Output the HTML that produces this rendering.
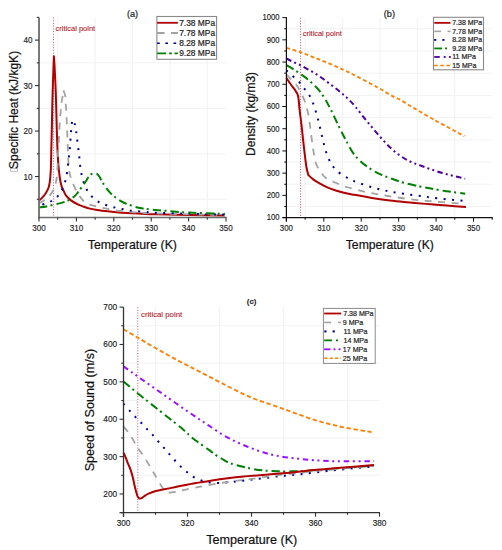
<!DOCTYPE html>
<html><head><meta charset="utf-8"><title>Figure</title>
<style>
html,body{margin:0;padding:0;background:#fff;}
body{width:502px;height:550px;overflow:hidden;}
svg{display:block;font-family:"Liberation Sans", sans-serif;}
</style></head>
<body>
<svg width="502" height="550" viewBox="0 0 502 550">
<rect width="502" height="550" fill="#fff"/>
<line x1="57.70" y1="17.5" x2="57.70" y2="217.5" stroke="#f2f2f2" stroke-width="1"/>
<line x1="95.10" y1="17.5" x2="95.10" y2="217.5" stroke="#f2f2f2" stroke-width="1"/>
<line x1="132.50" y1="17.5" x2="132.50" y2="217.5" stroke="#f2f2f2" stroke-width="1"/>
<line x1="169.90" y1="17.5" x2="169.90" y2="217.5" stroke="#f2f2f2" stroke-width="1"/>
<line x1="207.30" y1="17.5" x2="207.30" y2="217.5" stroke="#f2f2f2" stroke-width="1"/>
<line x1="39.0" y1="199.26" x2="226.0" y2="199.26" stroke="#f2f2f2" stroke-width="1"/>
<line x1="39.0" y1="153.80" x2="226.0" y2="153.80" stroke="#f2f2f2" stroke-width="1"/>
<line x1="39.0" y1="108.33" x2="226.0" y2="108.33" stroke="#f2f2f2" stroke-width="1"/>
<line x1="39.0" y1="62.86" x2="226.0" y2="62.86" stroke="#f2f2f2" stroke-width="1"/>
<line x1="53.6" y1="17.5" x2="53.6" y2="217.5" stroke="#dd5a80" stroke-width="1" stroke-dasharray="1.1,1.6"/>
<text x="55.6" y="30.8" font-size="7.5" text-anchor="start" fill="#b01a28" stroke="#b01a28" stroke-width="0.1">critical point</text>
<path d="M39.00,200.40 C39.42,200.07 40.67,199.20 41.50,198.40 C42.33,197.60 43.25,196.53 44.00,195.60 C44.75,194.67 45.38,193.78 46.00,192.80 C46.62,191.82 47.22,190.77 47.70,189.70 C48.18,188.63 48.57,187.63 48.90,186.40 C49.23,185.17 49.47,183.87 49.70,182.30 C49.93,180.73 50.13,178.88 50.30,177.00 C50.47,175.12 50.58,173.00 50.70,171.00 C50.82,169.00 50.90,168.50 51.00,165.00 C51.10,161.50 51.17,155.83 51.30,150.00 C51.43,144.17 51.65,136.67 51.80,130.00 C51.95,123.33 52.05,116.67 52.20,110.00 C52.35,103.33 52.52,96.33 52.70,90.00 C52.88,83.67 53.10,77.62 53.30,72.00 C53.50,66.38 53.80,58.92 53.90,56.30 L53.90,56.30 C54.00,57.75 54.32,61.88 54.50,65.00 C54.68,68.12 54.82,71.17 55.00,75.00 C55.18,78.83 55.43,83.83 55.60,88.00 C55.77,92.17 55.87,95.50 56.00,100.00 C56.13,104.50 56.27,110.00 56.40,115.00 C56.53,120.00 56.62,124.17 56.80,130.00 C56.98,135.83 57.23,144.17 57.50,150.00 C57.77,155.83 58.00,160.25 58.40,165.00 C58.80,169.75 59.37,174.95 59.90,178.50 C60.43,182.05 60.98,184.25 61.60,186.30 C62.22,188.35 62.85,189.25 63.60,190.80 C64.35,192.35 64.87,194.00 66.10,195.60 C67.33,197.20 69.05,198.93 71.00,200.40 C72.95,201.87 75.67,203.33 77.80,204.40 C79.93,205.47 81.80,206.10 83.80,206.80 C85.80,207.50 87.80,208.10 89.80,208.60 C91.80,209.10 93.77,209.45 95.80,209.80 C97.83,210.15 98.98,210.35 102.00,210.70 C105.02,211.05 109.60,211.52 113.90,211.90 C118.20,212.28 123.15,212.70 127.80,213.00 C132.45,213.30 137.15,213.48 141.80,213.70 C146.45,213.92 147.67,214.08 155.70,214.30 C163.73,214.52 178.45,214.80 190.00,215.00 C201.55,215.20 219.17,215.42 225.00,215.50" fill="none" stroke="#b00000" stroke-width="2.0" stroke-linejoin="round"/>
<path id="gray_a" d="M39.00,203.20 C39.70,202.82 41.70,201.88 43.20,200.90 C44.70,199.92 46.42,198.90 48.00,197.30 C49.58,195.70 51.47,193.43 52.70,191.30 C53.93,189.17 54.70,187.05 55.40,184.50 C56.10,181.95 56.53,179.25 56.90,176.00 C57.27,172.75 57.37,169.33 57.60,165.00 C57.83,160.67 58.03,155.33 58.30,150.00 C58.57,144.67 58.92,138.17 59.20,133.00 C59.48,127.83 59.75,122.63 60.00,119.00 C60.25,115.37 60.47,113.78 60.70,111.20 C60.93,108.62 61.10,105.87 61.40,103.50 C61.70,101.13 62.18,99.25 62.50,97.00 C62.82,94.75 63.17,91.17 63.30,90.00 L63.30,90.00 C63.52,90.58 64.25,92.33 64.60,93.50 C64.95,94.67 65.22,95.33 65.40,97.00 C65.58,98.67 65.57,101.32 65.70,103.50 C65.83,105.68 66.00,106.52 66.20,110.10 C66.40,113.68 66.68,120.02 66.90,125.00 C67.12,129.98 67.28,134.50 67.50,140.00 C67.72,145.50 67.90,152.67 68.20,158.00 C68.50,163.33 68.68,168.25 69.30,172.00 C69.92,175.75 70.68,177.28 71.90,180.50 C73.12,183.72 75.02,188.30 76.60,191.30 C78.18,194.30 79.80,196.52 81.40,198.50 C83.00,200.48 84.20,202.02 86.20,203.20 C88.20,204.38 90.42,204.78 93.40,205.60 C96.38,206.42 100.22,207.27 104.10,208.10 C107.98,208.93 112.28,209.97 116.70,210.60 C121.12,211.23 125.95,211.50 130.60,211.90 C135.25,212.30 135.53,212.62 144.60,213.00 C153.67,213.38 171.60,213.87 185.00,214.20 C198.40,214.53 218.33,214.87 225.00,215.00" fill="none" stroke="#a3a3a3" stroke-width="1.8" stroke-dasharray="7,6.5" stroke-dashoffset="0.30" stroke-linejoin="round"/>
<path id="blue_a" d="M39.00,205.30 C40.30,204.95 44.38,204.12 46.80,203.20 C49.22,202.28 51.45,201.22 53.50,199.80 C55.55,198.38 57.50,196.73 59.10,194.70 C60.70,192.67 61.98,190.17 63.10,187.60 C64.22,185.03 65.12,182.00 65.80,179.30 C66.48,176.60 66.80,174.08 67.20,171.40 C67.60,168.72 67.88,165.93 68.20,163.20 C68.52,160.47 68.82,157.58 69.10,155.00 C69.38,152.42 69.67,150.35 69.90,147.70 C70.13,145.05 70.30,141.87 70.50,139.10 C70.70,136.33 70.93,133.20 71.10,131.10 C71.27,129.00 71.37,127.87 71.50,126.50 C71.63,125.13 71.62,124.05 71.90,122.90 C72.18,121.75 72.75,119.55 73.20,119.60 C73.65,119.65 74.25,121.97 74.60,123.20 C74.95,124.43 75.05,125.68 75.30,127.00 C75.55,128.32 75.80,129.05 76.10,131.10 C76.40,133.15 76.75,136.53 77.10,139.30 C77.45,142.07 77.87,145.08 78.20,147.70 C78.53,150.32 78.82,152.42 79.10,155.00 C79.38,157.58 79.60,160.53 79.90,163.20 C80.20,165.87 80.45,168.42 80.90,171.00 C81.35,173.58 81.92,176.22 82.60,178.70 C83.28,181.18 84.00,183.60 85.00,185.90 C86.00,188.20 87.03,190.32 88.60,192.50 C90.17,194.68 92.28,197.22 94.40,199.00 C96.52,200.78 98.87,202.03 101.30,203.20 C103.73,204.37 106.32,205.18 109.00,206.00 C111.68,206.82 114.73,207.52 117.40,208.10 C120.07,208.68 122.33,209.03 125.00,209.50 C127.67,209.97 129.90,210.48 133.40,210.90 C136.90,211.32 142.52,211.70 146.00,212.00 C149.48,212.30 146.97,212.40 154.30,212.70 C161.63,213.00 178.22,213.48 190.00,213.80 C201.78,214.12 219.17,214.47 225.00,214.60" fill="none" stroke="#00009c" stroke-width="2.0" stroke-dasharray="2,6.4" stroke-dashoffset="5.00" stroke-linejoin="round"/>
<path d="M39.00,207.40 C40.23,207.23 43.85,206.87 46.40,206.40 C48.95,205.93 51.78,205.18 54.30,204.60 C56.82,204.02 59.37,203.52 61.50,202.90 C63.63,202.28 65.50,201.60 67.10,200.90 C68.70,200.20 69.78,199.53 71.10,198.70 C72.42,197.87 73.80,197.05 75.00,195.90 C76.20,194.75 77.23,193.17 78.30,191.80 C79.37,190.43 80.08,189.53 81.40,187.70 C82.72,185.87 84.97,182.65 86.20,180.80 C87.43,178.95 87.90,177.73 88.80,176.60 C89.70,175.47 90.57,174.55 91.60,174.00 C92.63,173.45 94.02,173.25 95.00,173.30 C95.98,173.35 96.73,173.68 97.50,174.30 C98.27,174.92 98.73,175.58 99.60,177.00 C100.47,178.42 101.25,180.52 102.70,182.80 C104.15,185.08 106.43,188.45 108.30,190.70 C110.17,192.95 111.80,194.57 113.90,196.30 C116.00,198.03 118.58,199.77 120.90,201.10 C123.22,202.43 125.48,203.37 127.80,204.30 C130.12,205.23 132.47,206.03 134.80,206.70 C137.13,207.37 139.27,207.85 141.80,208.30 C144.33,208.75 145.98,208.98 150.00,209.40 C154.02,209.82 159.27,210.27 165.90,210.80 C172.53,211.33 179.95,212.08 189.80,212.60 C199.65,213.12 219.13,213.68 225.00,213.90" fill="none" stroke="#008000" stroke-width="2.0" stroke-dasharray="8.3,3.3,2,4.1" stroke-linejoin="round"/>
<line x1="39.0" y1="17.5" x2="39.0" y2="218.3" stroke="#6b6b6b" stroke-width="1.8"/>
<line x1="38.1" y1="217.5" x2="226.6" y2="217.5" stroke="#6b6b6b" stroke-width="1.6"/>
<line x1="39.00" y1="217.5" x2="39.00" y2="221.5" stroke="#333" stroke-width="1.1"/>
<text x="39.0" y="231.3" font-size="8.91" text-anchor="middle" fill="#1a1a1a" stroke="#1a1a1a" stroke-width="0.15" textLength="13.51" lengthAdjust="spacingAndGlyphs">300</text>
<line x1="57.70" y1="217.5" x2="57.70" y2="219.7" stroke="#333" stroke-width="1.1"/>
<line x1="76.40" y1="217.5" x2="76.40" y2="221.5" stroke="#333" stroke-width="1.1"/>
<text x="76.4" y="231.3" font-size="8.91" text-anchor="middle" fill="#1a1a1a" stroke="#1a1a1a" stroke-width="0.15" textLength="13.51" lengthAdjust="spacingAndGlyphs">310</text>
<line x1="95.10" y1="217.5" x2="95.10" y2="219.7" stroke="#333" stroke-width="1.1"/>
<line x1="113.80" y1="217.5" x2="113.80" y2="221.5" stroke="#333" stroke-width="1.1"/>
<text x="113.8" y="231.3" font-size="8.91" text-anchor="middle" fill="#1a1a1a" stroke="#1a1a1a" stroke-width="0.15" textLength="13.51" lengthAdjust="spacingAndGlyphs">320</text>
<line x1="132.50" y1="217.5" x2="132.50" y2="219.7" stroke="#333" stroke-width="1.1"/>
<line x1="151.20" y1="217.5" x2="151.20" y2="221.5" stroke="#333" stroke-width="1.1"/>
<text x="151.2" y="231.3" font-size="8.91" text-anchor="middle" fill="#1a1a1a" stroke="#1a1a1a" stroke-width="0.15" textLength="13.51" lengthAdjust="spacingAndGlyphs">330</text>
<line x1="169.90" y1="217.5" x2="169.90" y2="219.7" stroke="#333" stroke-width="1.1"/>
<line x1="188.60" y1="217.5" x2="188.60" y2="221.5" stroke="#333" stroke-width="1.1"/>
<text x="188.6" y="231.3" font-size="8.91" text-anchor="middle" fill="#1a1a1a" stroke="#1a1a1a" stroke-width="0.15" textLength="13.51" lengthAdjust="spacingAndGlyphs">340</text>
<line x1="207.30" y1="217.5" x2="207.30" y2="219.7" stroke="#333" stroke-width="1.1"/>
<line x1="226.00" y1="217.5" x2="226.00" y2="221.5" stroke="#333" stroke-width="1.1"/>
<text x="226.0" y="231.3" font-size="8.91" text-anchor="middle" fill="#1a1a1a" stroke="#1a1a1a" stroke-width="0.15" textLength="13.51" lengthAdjust="spacingAndGlyphs">350</text>
<line x1="36.8" y1="199.26" x2="39.0" y2="199.26" stroke="#333" stroke-width="1.1"/>
<line x1="35.0" y1="176.53" x2="39.0" y2="176.53" stroke="#333" stroke-width="1.1"/>
<text x="32.6" y="179.83" font-size="8.91" text-anchor="end" fill="#1a1a1a" stroke="#1a1a1a" stroke-width="0.15" textLength="9.01" lengthAdjust="spacingAndGlyphs">10</text>
<line x1="36.8" y1="153.80" x2="39.0" y2="153.80" stroke="#333" stroke-width="1.1"/>
<line x1="35.0" y1="131.06" x2="39.0" y2="131.06" stroke="#333" stroke-width="1.1"/>
<text x="32.6" y="134.36" font-size="8.91" text-anchor="end" fill="#1a1a1a" stroke="#1a1a1a" stroke-width="0.15" textLength="9.01" lengthAdjust="spacingAndGlyphs">20</text>
<line x1="36.8" y1="108.33" x2="39.0" y2="108.33" stroke="#333" stroke-width="1.1"/>
<line x1="35.0" y1="85.59" x2="39.0" y2="85.59" stroke="#333" stroke-width="1.1"/>
<text x="32.6" y="88.89" font-size="8.91" text-anchor="end" fill="#1a1a1a" stroke="#1a1a1a" stroke-width="0.15" textLength="9.01" lengthAdjust="spacingAndGlyphs">30</text>
<line x1="36.8" y1="62.86" x2="39.0" y2="62.86" stroke="#333" stroke-width="1.1"/>
<line x1="35.0" y1="40.12" x2="39.0" y2="40.12" stroke="#333" stroke-width="1.1"/>
<text x="32.6" y="43.42" font-size="8.91" text-anchor="end" fill="#1a1a1a" stroke="#1a1a1a" stroke-width="0.15" textLength="9.01" lengthAdjust="spacingAndGlyphs">40</text>
<line x1="36.8" y1="17.39" x2="39.0" y2="17.39" stroke="#333" stroke-width="1.1"/>
<text x="132.5" y="17.1" font-size="9.2" text-anchor="middle" fill="#222" stroke="#222" stroke-width="0.2">(a)</text>
<text x="132.4" y="248.7" font-size="12.35" text-anchor="middle" fill="#111" stroke="#111" stroke-width="0.2">Temperature (K)</text>
<g transform="translate(17.8,171.6) rotate(-90)"><rect x="0.35" y="-7.4" width="2.9" height="7.1" fill="none" stroke="#aaa" stroke-width="0.7"/><text x="2.7" y="0" font-size="12" fill="#111" stroke="#111" stroke-width="0.2">Specific Heat (kJ/kgK)</text></g>
<rect x="156.9" y="16.5" width="59.7" height="42.8" fill="#fff" stroke="#8a8a8a" stroke-width="1.1"/>
<line x1="157.1" y1="22.80" x2="177.9" y2="22.80" stroke="#b00000" stroke-width="1.8"/>
<text x="179.2" y="25.8" font-size="8.4" text-anchor="start" fill="#222" stroke="#222" stroke-width="0.2">7.38 MPa</text>
<line x1="157.1" y1="33.00" x2="177.9" y2="33.00" stroke="#a3a3a3" stroke-width="1.8" stroke-dasharray="7.5,6.4"/>
<text x="179.2" y="36.0" font-size="8.4" text-anchor="start" fill="#222" stroke="#222" stroke-width="0.2">7.78 MPa</text>
<line x1="157.1" y1="43.20" x2="177.9" y2="43.20" stroke="#00009c" stroke-width="1.6" stroke-dasharray="2.7,5.5"/>
<text x="179.2" y="46.2" font-size="8.4" text-anchor="start" fill="#222" stroke="#222" stroke-width="0.2">8.28 MPa</text>
<line x1="157.1" y1="53.40" x2="177.9" y2="53.40" stroke="#008000" stroke-width="1.8" stroke-dasharray="9,3,2.7,2.7"/>
<text x="179.2" y="56.4" font-size="8.4" text-anchor="start" fill="#222" stroke="#222" stroke-width="0.2">9.28 MPa</text>
<line x1="305.11" y1="17.8" x2="305.11" y2="217.6" stroke="#f2f2f2" stroke-width="1"/>
<line x1="342.53" y1="17.8" x2="342.53" y2="217.6" stroke="#f2f2f2" stroke-width="1"/>
<line x1="379.95" y1="17.8" x2="379.95" y2="217.6" stroke="#f2f2f2" stroke-width="1"/>
<line x1="417.37" y1="17.8" x2="417.37" y2="217.6" stroke="#f2f2f2" stroke-width="1"/>
<line x1="454.79" y1="17.8" x2="454.79" y2="217.6" stroke="#f2f2f2" stroke-width="1"/>
<line x1="286.4" y1="206.49" x2="492.21" y2="206.49" stroke="#f2f2f2" stroke-width="1"/>
<line x1="286.4" y1="184.27" x2="492.21" y2="184.27" stroke="#f2f2f2" stroke-width="1"/>
<line x1="286.4" y1="162.05" x2="492.21" y2="162.05" stroke="#f2f2f2" stroke-width="1"/>
<line x1="286.4" y1="139.83" x2="492.21" y2="139.83" stroke="#f2f2f2" stroke-width="1"/>
<line x1="286.4" y1="117.61" x2="492.21" y2="117.61" stroke="#f2f2f2" stroke-width="1"/>
<line x1="286.4" y1="95.39" x2="492.21" y2="95.39" stroke="#f2f2f2" stroke-width="1"/>
<line x1="286.4" y1="73.17" x2="492.21" y2="73.17" stroke="#f2f2f2" stroke-width="1"/>
<line x1="286.4" y1="50.95" x2="492.21" y2="50.95" stroke="#f2f2f2" stroke-width="1"/>
<line x1="286.4" y1="28.73" x2="492.21" y2="28.73" stroke="#f2f2f2" stroke-width="1"/>
<line x1="300.5" y1="17.8" x2="300.5" y2="217.6" stroke="#dd5a80" stroke-width="1" stroke-dasharray="1.1,1.6"/>
<text x="302.8" y="36.2" font-size="7.4" text-anchor="start" fill="#b01a28" stroke="#b01a28" stroke-width="0.1">critical point</text>
<path d="M286.40,77.90 C287.20,79.08 289.78,83.00 291.20,85.00 C292.62,87.00 293.83,88.37 294.90,89.90 C295.97,91.43 297.15,93.48 297.60,94.20 L297.60,94.20 C297.77,95.05 298.30,97.02 298.60,99.30 C298.90,101.58 299.07,104.83 299.40,107.90 C299.73,110.97 300.18,114.27 300.60,117.70 C301.02,121.13 301.35,123.58 301.90,128.50 C302.45,133.42 303.30,141.90 303.90,147.20 C304.50,152.50 305.05,156.83 305.50,160.30 C305.95,163.77 306.13,165.55 306.60,168.00 C307.07,170.45 308.02,173.83 308.30,175.00 L308.30,175.00 C309.12,175.73 311.25,177.95 313.20,179.40 C315.15,180.85 317.65,182.37 320.00,183.70 C322.35,185.03 324.80,186.30 327.30,187.40 C329.80,188.50 332.23,189.42 335.00,190.30 C337.77,191.18 340.42,191.90 343.90,192.70 C347.38,193.50 351.23,194.23 355.90,195.10 C360.57,195.97 366.58,197.05 371.90,197.90 C377.22,198.75 382.50,199.53 387.80,200.20 C393.10,200.87 399.17,201.43 403.70,201.90 C408.23,202.37 410.47,202.60 415.00,203.00 C419.53,203.40 425.58,203.87 430.90,204.30 C436.22,204.73 441.05,205.17 446.90,205.60 C452.75,206.03 462.82,206.68 466.00,206.90" fill="none" stroke="#b00000" stroke-width="2.0" stroke-linejoin="round"/>
<path d="M286.40,74.40 C286.90,74.93 288.30,76.42 289.40,77.60 C290.50,78.78 291.82,80.27 293.00,81.50 C294.18,82.73 295.50,83.73 296.50,85.00 C297.50,86.27 297.97,87.20 299.00,89.10 C300.03,91.00 301.68,94.22 302.70,96.40 C303.72,98.58 304.35,100.02 305.10,102.20 C305.85,104.38 306.62,107.25 307.20,109.50 C307.78,111.75 308.20,113.52 308.60,115.70 C309.00,117.88 309.30,120.43 309.60,122.60 C309.90,124.77 309.98,125.50 310.40,128.70 C310.82,131.90 311.55,137.80 312.10,141.80 C312.65,145.80 313.12,149.30 313.70,152.70 C314.28,156.10 314.87,159.65 315.60,162.20 C316.33,164.75 316.97,165.95 318.10,168.00 C319.23,170.05 321.13,172.87 322.40,174.50 C323.67,176.13 324.43,176.83 325.70,177.80 C326.97,178.77 328.45,179.52 330.00,180.30 C331.55,181.08 333.33,181.77 335.00,182.50 C336.67,183.23 338.10,183.95 340.00,184.70 C341.90,185.45 342.42,185.85 346.40,187.00 C350.38,188.15 358.33,190.33 363.90,191.60 C369.47,192.87 374.48,193.67 379.80,194.60 C385.12,195.53 389.93,196.33 395.80,197.20 C401.67,198.07 409.15,199.13 415.00,199.80 C420.85,200.47 425.58,200.75 430.90,201.20 C436.22,201.65 441.22,202.07 446.90,202.50 C452.58,202.93 461.98,203.58 465.00,203.80" fill="none" stroke="#a3a3a3" stroke-width="1.8" stroke-dasharray="7,6.5" stroke-linejoin="round"/>
<path d="M286.40,70.50 C287.40,71.40 290.32,74.02 292.40,75.90 C294.48,77.78 297.02,79.82 298.90,81.80 C300.78,83.78 302.00,85.60 303.70,87.80 C305.40,90.00 307.60,92.60 309.10,95.00 C310.60,97.40 311.67,99.72 312.70,102.20 C313.73,104.68 314.48,107.32 315.30,109.90 C316.12,112.48 316.90,115.10 317.60,117.70 C318.30,120.30 318.88,122.92 319.50,125.50 C320.12,128.08 320.68,130.62 321.30,133.20 C321.92,135.78 322.55,138.33 323.20,141.00 C323.85,143.67 324.40,146.53 325.20,149.20 C326.00,151.87 327.02,154.60 328.00,157.00 C328.98,159.40 329.83,161.52 331.10,163.60 C332.37,165.68 333.78,167.63 335.60,169.50 C337.42,171.37 339.67,173.23 342.00,174.80 C344.33,176.37 347.28,177.72 349.60,178.90 C351.92,180.08 352.18,180.52 355.90,181.90 C359.62,183.28 366.58,185.67 371.90,187.20 C377.22,188.73 382.50,190.00 387.80,191.10 C393.10,192.20 398.10,192.97 403.70,193.80 C409.30,194.63 416.87,195.50 421.40,196.10 C425.93,196.70 426.65,196.87 430.90,197.40 C435.15,197.93 441.18,198.72 446.90,199.30 C452.62,199.88 462.15,200.63 465.20,200.90" fill="none" stroke="#00009c" stroke-width="2.0" stroke-dasharray="2,6.4" stroke-linejoin="round"/>
<path d="M286.40,65.10 C287.60,65.80 291.22,67.80 293.60,69.30 C295.98,70.80 298.32,72.42 300.70,74.10 C303.08,75.78 305.50,77.42 307.90,79.40 C310.30,81.38 313.10,84.00 315.10,86.00 C317.10,88.00 318.32,89.37 319.90,91.40 C321.48,93.43 323.22,96.00 324.60,98.20 C325.98,100.40 326.80,101.95 328.20,104.60 C329.60,107.25 331.60,111.23 333.00,114.10 C334.40,116.97 335.40,119.28 336.60,121.80 C337.80,124.32 339.00,126.80 340.20,129.20 C341.40,131.60 342.77,134.20 343.80,136.20 C344.83,138.20 344.92,138.50 346.40,141.20 C347.88,143.90 350.32,149.03 352.70,152.40 C355.08,155.77 357.50,158.50 360.70,161.40 C363.90,164.30 368.18,167.45 371.90,169.80 C375.62,172.15 379.55,173.97 383.00,175.50 C386.45,177.03 389.15,177.78 392.60,179.00 C396.05,180.22 399.18,181.57 403.70,182.80 C408.22,184.03 415.17,185.43 419.70,186.40 C424.23,187.37 426.37,187.78 430.90,188.60 C435.43,189.42 441.18,190.45 446.90,191.30 C452.62,192.15 462.15,193.30 465.20,193.70" fill="none" stroke="#008000" stroke-width="2.0" stroke-dasharray="8.3,3.3,2,4.1" stroke-linejoin="round"/>
<path d="M286.40,58.50 C287.60,59.10 291.22,60.97 293.60,62.10 C295.98,63.23 298.32,64.10 300.70,65.30 C303.08,66.50 305.50,67.93 307.90,69.30 C310.30,70.67 312.72,72.02 315.10,73.50 C317.48,74.98 319.82,76.52 322.20,78.20 C324.58,79.88 327.00,81.80 329.40,83.60 C331.80,85.40 334.40,87.27 336.60,89.00 C338.80,90.73 340.57,92.25 342.60,94.00 C344.63,95.75 346.58,97.27 348.80,99.50 C351.02,101.73 353.38,104.40 355.90,107.40 C358.42,110.40 361.23,114.22 363.90,117.50 C366.57,120.78 369.25,123.93 371.90,127.10 C374.55,130.27 377.15,133.48 379.80,136.50 C382.45,139.52 385.13,142.55 387.80,145.20 C390.47,147.85 393.15,150.27 395.80,152.40 C398.45,154.53 401.05,156.37 403.70,158.00 C406.35,159.63 409.03,160.98 411.70,162.20 C414.37,163.42 416.50,164.12 419.70,165.30 C422.90,166.48 426.37,167.80 430.90,169.30 C435.43,170.80 441.18,172.73 446.90,174.30 C452.62,175.87 462.15,177.97 465.20,178.70" fill="none" stroke="#4f009e" stroke-width="2.0" stroke-dasharray="5.5,3.2,2,3.2,2,3.3" stroke-linejoin="round"/>
<path d="M286.40,47.80 C288.78,48.55 295.92,50.62 300.70,52.30 C305.48,53.98 310.32,56.02 315.10,57.90 C319.88,59.78 324.62,61.58 329.40,63.60 C334.18,65.62 339.38,67.95 343.80,70.00 C348.22,72.05 351.22,73.50 355.90,75.90 C360.58,78.30 367.88,82.25 371.90,84.40 C375.92,86.55 377.35,87.28 380.00,88.80 C382.65,90.32 385.30,92.07 387.80,93.50 C390.30,94.93 392.90,96.35 395.00,97.40 C397.10,98.45 397.90,98.40 400.40,99.80 C402.90,101.20 406.62,103.77 410.00,105.80 C413.38,107.83 417.12,109.92 420.70,112.00 C424.28,114.08 428.83,116.75 431.50,118.30 C434.17,119.85 434.13,119.90 436.70,121.30 C439.27,122.70 443.77,125.02 446.90,126.70 C450.03,128.38 452.58,129.80 455.50,131.40 C458.42,133.00 462.92,135.48 464.40,136.30" fill="none" stroke="#ff8000" stroke-width="1.85" stroke-dasharray="3.8,2.6" stroke-linejoin="round"/>
<line x1="286.4" y1="17.3" x2="286.4" y2="221.6" stroke="#111" stroke-width="1.2"/>
<line x1="282.4" y1="217.6" x2="492.71" y2="217.6" stroke="#111" stroke-width="1.35"/>
<line x1="286.40" y1="217.6" x2="286.40" y2="221.6" stroke="#111" stroke-width="1"/>
<text x="286.4" y="231.2" font-size="8.69" text-anchor="middle" fill="#1a1a1a" stroke="#1a1a1a" stroke-width="0.15" textLength="13.18" lengthAdjust="spacingAndGlyphs">300</text>
<line x1="305.11" y1="217.6" x2="305.11" y2="219.79999999999998" stroke="#111" stroke-width="1"/>
<line x1="323.82" y1="217.6" x2="323.82" y2="221.6" stroke="#111" stroke-width="1"/>
<text x="323.82" y="231.2" font-size="8.69" text-anchor="middle" fill="#1a1a1a" stroke="#1a1a1a" stroke-width="0.15" textLength="13.18" lengthAdjust="spacingAndGlyphs">310</text>
<line x1="342.53" y1="217.6" x2="342.53" y2="219.79999999999998" stroke="#111" stroke-width="1"/>
<line x1="361.24" y1="217.6" x2="361.24" y2="221.6" stroke="#111" stroke-width="1"/>
<text x="361.24" y="231.2" font-size="8.69" text-anchor="middle" fill="#1a1a1a" stroke="#1a1a1a" stroke-width="0.15" textLength="13.18" lengthAdjust="spacingAndGlyphs">320</text>
<line x1="379.95" y1="217.6" x2="379.95" y2="219.79999999999998" stroke="#111" stroke-width="1"/>
<line x1="398.66" y1="217.6" x2="398.66" y2="221.6" stroke="#111" stroke-width="1"/>
<text x="398.66" y="231.2" font-size="8.69" text-anchor="middle" fill="#1a1a1a" stroke="#1a1a1a" stroke-width="0.15" textLength="13.18" lengthAdjust="spacingAndGlyphs">330</text>
<line x1="417.37" y1="217.6" x2="417.37" y2="219.79999999999998" stroke="#111" stroke-width="1"/>
<line x1="436.08" y1="217.6" x2="436.08" y2="221.6" stroke="#111" stroke-width="1"/>
<text x="436.08" y="231.2" font-size="8.69" text-anchor="middle" fill="#1a1a1a" stroke="#1a1a1a" stroke-width="0.15" textLength="13.18" lengthAdjust="spacingAndGlyphs">340</text>
<line x1="454.79" y1="217.6" x2="454.79" y2="219.79999999999998" stroke="#111" stroke-width="1"/>
<line x1="473.50" y1="217.6" x2="473.50" y2="221.6" stroke="#111" stroke-width="1"/>
<text x="473.5" y="231.2" font-size="8.69" text-anchor="middle" fill="#1a1a1a" stroke="#1a1a1a" stroke-width="0.15" textLength="13.18" lengthAdjust="spacingAndGlyphs">350</text>
<line x1="492.21" y1="217.6" x2="492.21" y2="219.79999999999998" stroke="#111" stroke-width="1"/>
<line x1="282.4" y1="217.60" x2="286.4" y2="217.60" stroke="#111" stroke-width="1"/>
<text x="279.6" y="220.4" font-size="8.47" text-anchor="end" fill="#1a1a1a" stroke="#1a1a1a" stroke-width="0.15" textLength="12.84" lengthAdjust="spacingAndGlyphs">100</text>
<line x1="284.2" y1="206.49" x2="286.4" y2="206.49" stroke="#111" stroke-width="1"/>
<line x1="282.4" y1="195.38" x2="286.4" y2="195.38" stroke="#111" stroke-width="1"/>
<text x="279.6" y="198.18" font-size="8.47" text-anchor="end" fill="#1a1a1a" stroke="#1a1a1a" stroke-width="0.15" textLength="12.84" lengthAdjust="spacingAndGlyphs">200</text>
<line x1="284.2" y1="184.27" x2="286.4" y2="184.27" stroke="#111" stroke-width="1"/>
<line x1="282.4" y1="173.16" x2="286.4" y2="173.16" stroke="#111" stroke-width="1"/>
<text x="279.6" y="175.96" font-size="8.47" text-anchor="end" fill="#1a1a1a" stroke="#1a1a1a" stroke-width="0.15" textLength="12.84" lengthAdjust="spacingAndGlyphs">300</text>
<line x1="284.2" y1="162.05" x2="286.4" y2="162.05" stroke="#111" stroke-width="1"/>
<line x1="282.4" y1="150.94" x2="286.4" y2="150.94" stroke="#111" stroke-width="1"/>
<text x="279.6" y="153.74" font-size="8.47" text-anchor="end" fill="#1a1a1a" stroke="#1a1a1a" stroke-width="0.15" textLength="12.84" lengthAdjust="spacingAndGlyphs">400</text>
<line x1="284.2" y1="139.83" x2="286.4" y2="139.83" stroke="#111" stroke-width="1"/>
<line x1="282.4" y1="128.72" x2="286.4" y2="128.72" stroke="#111" stroke-width="1"/>
<text x="279.6" y="131.52" font-size="8.47" text-anchor="end" fill="#1a1a1a" stroke="#1a1a1a" stroke-width="0.15" textLength="12.84" lengthAdjust="spacingAndGlyphs">500</text>
<line x1="284.2" y1="117.61" x2="286.4" y2="117.61" stroke="#111" stroke-width="1"/>
<line x1="282.4" y1="106.50" x2="286.4" y2="106.50" stroke="#111" stroke-width="1"/>
<text x="279.6" y="109.3" font-size="8.47" text-anchor="end" fill="#1a1a1a" stroke="#1a1a1a" stroke-width="0.15" textLength="12.84" lengthAdjust="spacingAndGlyphs">600</text>
<line x1="284.2" y1="95.39" x2="286.4" y2="95.39" stroke="#111" stroke-width="1"/>
<line x1="282.4" y1="84.28" x2="286.4" y2="84.28" stroke="#111" stroke-width="1"/>
<text x="279.6" y="87.08" font-size="8.47" text-anchor="end" fill="#1a1a1a" stroke="#1a1a1a" stroke-width="0.15" textLength="12.84" lengthAdjust="spacingAndGlyphs">700</text>
<line x1="284.2" y1="73.17" x2="286.4" y2="73.17" stroke="#111" stroke-width="1"/>
<line x1="282.4" y1="62.06" x2="286.4" y2="62.06" stroke="#111" stroke-width="1"/>
<text x="279.6" y="64.86" font-size="8.47" text-anchor="end" fill="#1a1a1a" stroke="#1a1a1a" stroke-width="0.15" textLength="12.84" lengthAdjust="spacingAndGlyphs">800</text>
<line x1="284.2" y1="50.95" x2="286.4" y2="50.95" stroke="#111" stroke-width="1"/>
<line x1="282.4" y1="39.84" x2="286.4" y2="39.84" stroke="#111" stroke-width="1"/>
<text x="279.6" y="42.64" font-size="8.47" text-anchor="end" fill="#1a1a1a" stroke="#1a1a1a" stroke-width="0.15" textLength="12.84" lengthAdjust="spacingAndGlyphs">900</text>
<line x1="284.2" y1="28.73" x2="286.4" y2="28.73" stroke="#111" stroke-width="1"/>
<line x1="282.4" y1="17.62" x2="286.4" y2="17.62" stroke="#111" stroke-width="1"/>
<text x="279.6" y="20.42" font-size="8.47" text-anchor="end" fill="#1a1a1a" stroke="#1a1a1a" stroke-width="0.15" textLength="17.12" lengthAdjust="spacingAndGlyphs">1000</text>
<text x="389.4" y="17.3" font-size="9.2" text-anchor="middle" fill="#222" stroke="#222" stroke-width="0.2">(b)</text>
<text x="389.8" y="248.6" font-size="12.2" text-anchor="middle" fill="#111" stroke="#111" stroke-width="0.2">Temperature (K)</text>
<text transform="translate(254.9,155.9) rotate(-90)" x="0" y="0" font-size="12" fill="#111" stroke="#111" stroke-width="0.2">Density (kg/m3)</text>
<rect x="433.5" y="17.3" width="50" height="52.5" fill="#fff" stroke="#8a8a8a" stroke-width="1.1"/>
<line x1="434.3" y1="22.85" x2="450.5" y2="22.85" stroke="#b00000" stroke-width="1.8"/>
<text x="452.2" y="25.35" font-size="7.0" text-anchor="start" fill="#222" stroke="#222" stroke-width="0.2">7.38 MPa</text>
<line x1="434.3" y1="31.38" x2="441" y2="31.38" stroke="#a3a3a3" stroke-width="1.6"/>
<line x1="447.5" y1="31.38" x2="450.5" y2="31.38" stroke="#a3a3a3" stroke-width="1.6"/>
<text x="452.2" y="33.88" font-size="7.0" text-anchor="start" fill="#222" stroke="#222" stroke-width="0.2">7.78 MPa</text>
<rect x="434.1" y="39.01" width="2.2" height="1.8" fill="#00009c"/>
<rect x="442.3" y="39.01" width="2.2" height="1.8" fill="#00009c"/>
<text x="452.2" y="42.41" font-size="7.0" text-anchor="start" fill="#222" stroke="#222" stroke-width="0.2">8.28 MPa</text>
<line x1="434.3" y1="48.44" x2="442" y2="48.44" stroke="#008000" stroke-width="1.8"/>
<line x1="445" y1="48.44" x2="447" y2="48.44" stroke="#008000" stroke-width="1.8"/>
<text x="452.2" y="50.94" font-size="7.0" text-anchor="start" fill="#222" stroke="#222" stroke-width="0.2">9.28 MPa</text>
<line x1="434.3" y1="56.97" x2="439.8" y2="56.97" stroke="#4f009e" stroke-width="1.8"/>
<line x1="443.7" y1="56.97" x2="445.7" y2="56.97" stroke="#4f009e" stroke-width="1.8"/>
<line x1="448.9" y1="56.97" x2="450.8" y2="56.97" stroke="#4f009e" stroke-width="1.8"/>
<text x="452.2" y="59.47" font-size="7.0" text-anchor="start" fill="#222" stroke="#222" stroke-width="0.2">11 MPa</text>
<line x1="434.1" y1="65.50" x2="450" y2="65.50" stroke="#ff8000" stroke-width="1.6" stroke-dasharray="3.6,2.5"/>
<text x="452.2" y="68.0" font-size="7.0" text-anchor="start" fill="#222" stroke="#222" stroke-width="0.2">15 MPa</text>
<line x1="155.50" y1="307.1" x2="155.50" y2="512.69" stroke="#f2f2f2" stroke-width="1"/>
<line x1="219.50" y1="307.1" x2="219.50" y2="512.69" stroke="#f2f2f2" stroke-width="1"/>
<line x1="283.50" y1="307.1" x2="283.50" y2="512.69" stroke="#f2f2f2" stroke-width="1"/>
<line x1="347.50" y1="307.1" x2="347.50" y2="512.69" stroke="#f2f2f2" stroke-width="1"/>
<line x1="123.5" y1="475.31" x2="379.50" y2="475.31" stroke="#f2f2f2" stroke-width="1"/>
<line x1="123.5" y1="437.93" x2="379.50" y2="437.93" stroke="#f2f2f2" stroke-width="1"/>
<line x1="123.5" y1="400.55" x2="379.50" y2="400.55" stroke="#f2f2f2" stroke-width="1"/>
<line x1="123.5" y1="363.17" x2="379.50" y2="363.17" stroke="#f2f2f2" stroke-width="1"/>
<line x1="123.5" y1="325.79" x2="379.50" y2="325.79" stroke="#f2f2f2" stroke-width="1"/>
<line x1="137.8" y1="307.1" x2="137.8" y2="512.69" stroke="#dd5a80" stroke-width="1" stroke-dasharray="1.1,1.6"/>
<text x="141.0" y="316.9" font-size="7.8" text-anchor="start" fill="#b01a28" stroke="#b01a28" stroke-width="0.1">critical point</text>
<path d="M123.50,329.30 C125.83,330.67 132.77,334.72 137.50,337.50 C142.23,340.28 146.85,343.08 151.90,346.00 C156.95,348.92 162.50,352.07 167.80,355.00 C173.10,357.93 178.38,360.82 183.70,363.60 C189.02,366.38 193.28,368.40 199.70,371.70 C206.12,375.00 213.90,379.22 222.20,383.40 C230.50,387.58 240.42,392.93 249.50,396.80 C258.58,400.67 269.95,404.18 276.70,406.60 C283.45,409.02 283.85,409.13 290.00,411.30 C296.15,413.47 305.72,417.15 313.60,419.60 C321.48,422.05 329.42,424.20 337.30,426.00 C345.18,427.80 354.78,429.33 360.90,430.40 C367.02,431.47 371.82,432.07 374.00,432.40" fill="none" stroke="#ff8000" stroke-width="1.85" stroke-dasharray="4.4,2.6" stroke-linejoin="round"/>
<path d="M123.50,366.40 C125.03,367.48 130.10,371.05 132.70,372.90 C135.30,374.75 135.37,374.88 139.10,377.50 C142.83,380.12 149.78,384.88 155.10,388.60 C160.42,392.32 165.70,396.08 171.00,399.80 C176.30,403.52 182.12,407.62 186.90,410.90 C191.68,414.18 196.08,417.08 199.70,419.50 C203.32,421.92 204.85,422.92 208.60,425.40 C212.35,427.88 217.65,431.68 222.20,434.40 C226.75,437.12 231.35,439.52 235.90,441.70 C240.45,443.88 244.97,445.73 249.50,447.50 C254.03,449.27 258.57,450.93 263.10,452.30 C267.63,453.67 271.47,454.70 276.70,455.70 C281.93,456.70 288.35,457.55 294.50,458.30 C300.65,459.05 306.47,459.70 313.60,460.20 C320.73,460.70 327.23,461.15 337.30,461.30 C347.37,461.45 367.88,461.13 374.00,461.10" fill="none" stroke="#9a10ff" stroke-width="2.0" stroke-dasharray="5.5,3.6,2,3.6,2,3.8" stroke-linejoin="round"/>
<path d="M123.50,381.50 C125.57,383.23 131.17,388.05 135.90,391.90 C140.63,395.75 146.58,400.38 151.90,404.60 C157.22,408.82 163.02,413.42 167.80,417.20 C172.58,420.98 177.42,424.67 180.60,427.30 C183.78,429.93 184.50,430.88 186.90,433.00 C189.30,435.12 191.38,437.23 195.00,440.00 C198.62,442.77 205.27,447.17 208.60,449.60 C211.93,452.03 212.73,453.03 215.00,454.60 C217.27,456.17 220.03,457.70 222.20,459.00 C224.37,460.30 225.72,461.40 228.00,462.40 C230.28,463.40 232.32,464.02 235.90,465.00 C239.48,465.98 244.97,467.40 249.50,468.30 C254.03,469.20 258.57,469.90 263.10,470.40 C267.63,470.90 271.47,471.15 276.70,471.30 C281.93,471.45 288.35,471.47 294.50,471.30 C300.65,471.13 306.47,470.75 313.60,470.30 C320.73,469.85 327.23,469.38 337.30,468.60 C347.37,467.82 367.88,466.10 374.00,465.60" fill="none" stroke="#008000" stroke-width="2.0" stroke-dasharray="8.3,3.3,2,4.1" stroke-linejoin="round"/>
<path d="M123.50,403.80 C124.52,404.93 127.67,408.47 129.60,410.60 C131.53,412.73 133.25,414.67 135.10,416.60 C136.95,418.53 138.83,420.25 140.70,422.20 C142.57,424.15 144.43,426.32 146.30,428.30 C148.17,430.28 150.03,432.05 151.90,434.10 C153.77,436.15 155.65,438.50 157.50,440.60 C159.35,442.70 161.28,444.75 163.00,446.70 C164.72,448.65 166.07,450.30 167.80,452.30 C169.53,454.30 171.53,456.62 173.40,458.70 C175.27,460.78 177.02,462.82 179.00,464.80 C180.98,466.78 183.18,468.77 185.30,470.60 C187.42,472.43 189.27,474.23 191.70,475.80 C194.13,477.37 197.20,478.93 199.90,480.00 C202.60,481.07 205.10,481.72 207.90,482.20 C210.70,482.68 213.78,482.85 216.70,482.90 C219.62,482.95 222.62,482.70 225.40,482.50 C228.18,482.30 230.60,481.98 233.40,481.70 C236.20,481.42 239.42,481.10 242.20,480.80 C244.98,480.50 247.45,480.22 250.10,479.90 C252.75,479.58 253.67,479.47 258.10,478.90 C262.53,478.33 270.63,477.18 276.70,476.50 C282.77,475.82 288.35,475.43 294.50,474.80 C300.65,474.17 306.47,473.52 313.60,472.70 C320.73,471.88 327.23,470.97 337.30,469.90 C347.37,468.83 367.88,466.90 374.00,466.30" fill="none" stroke="#00009c" stroke-width="2.0" stroke-dasharray="2,6.4" stroke-linejoin="round"/>
<path d="M123.50,426.40 C124.25,427.32 126.72,430.20 128.00,431.90 C129.28,433.60 129.62,434.03 131.20,436.60 C132.78,439.17 135.12,443.57 137.50,447.30 C139.88,451.03 142.83,454.80 145.50,459.00 C148.17,463.20 151.25,468.63 153.50,472.50 C155.75,476.37 157.33,479.45 159.00,482.20 C160.67,484.95 161.92,487.23 163.50,489.00 C165.08,490.77 167.67,492.17 168.50,492.80 L168.50,492.80 C169.75,492.63 173.28,492.30 176.00,491.80 C178.72,491.30 180.68,490.67 184.80,489.80 C188.92,488.93 195.38,487.62 200.70,486.60 C206.02,485.58 211.38,484.58 216.70,483.70 C222.02,482.82 227.30,482.03 232.60,481.30 C237.90,480.57 241.15,480.30 248.50,479.30 C255.85,478.30 269.03,476.28 276.70,475.30 C284.37,474.32 288.35,474.08 294.50,473.40 C300.65,472.72 306.47,471.93 313.60,471.20 C320.73,470.47 327.23,469.93 337.30,469.00 C347.37,468.07 367.88,466.17 374.00,465.60" fill="none" stroke="#a3a3a3" stroke-width="1.8" stroke-dasharray="7,6.5" stroke-linejoin="round"/>
<path d="M123.50,452.60 C123.88,453.47 125.13,456.17 125.80,457.80 C126.47,459.43 126.93,460.98 127.50,462.40 C128.07,463.82 128.67,465.02 129.20,466.30 C129.73,467.58 130.08,468.20 130.70,470.10 C131.32,472.00 132.27,475.17 132.90,477.70 C133.53,480.23 133.95,482.93 134.50,485.30 C135.05,487.67 135.68,490.05 136.20,491.90 C136.72,493.75 137.10,495.32 137.60,496.40 C138.10,497.48 138.63,498.08 139.20,498.40 C139.77,498.72 140.47,498.45 141.00,498.30 C141.53,498.15 141.67,497.98 142.40,497.50 C143.13,497.02 144.37,496.05 145.40,495.40 C146.43,494.75 146.98,494.30 148.60,493.60 C150.22,492.90 152.70,491.87 155.10,491.20 C157.50,490.53 159.55,490.30 163.00,489.60 C166.45,488.90 171.82,487.82 175.80,487.00 C179.78,486.18 183.55,485.35 186.90,484.70 C190.25,484.05 191.73,483.82 195.90,483.10 C200.07,482.38 206.58,481.22 211.90,480.40 C217.22,479.58 222.50,478.85 227.80,478.20 C233.10,477.55 238.38,476.98 243.70,476.50 C249.02,476.02 254.20,475.75 259.70,475.30 C265.20,474.85 270.90,474.30 276.70,473.80 C282.50,473.30 288.35,472.92 294.50,472.30 C300.65,471.68 306.47,470.80 313.60,470.10 C320.73,469.40 327.23,468.93 337.30,468.10 C347.37,467.27 367.88,465.60 374.00,465.10" fill="none" stroke="#b00000" stroke-width="2.0" stroke-linejoin="round"/>
<line x1="123.5" y1="307.1" x2="123.5" y2="516.69" stroke="#333" stroke-width="1.3"/>
<line x1="119.5" y1="512.69" x2="380.00" y2="512.69" stroke="#333" stroke-width="1.3"/>
<line x1="123.50" y1="512.69" x2="123.50" y2="516.69" stroke="#333" stroke-width="1.1"/>
<text x="123.5" y="526.3" font-size="9.02" text-anchor="middle" fill="#1a1a1a" stroke="#1a1a1a" stroke-width="0.15" textLength="13.68" lengthAdjust="spacingAndGlyphs">300</text>
<line x1="155.50" y1="512.69" x2="155.50" y2="514.89" stroke="#333" stroke-width="1.1"/>
<line x1="187.50" y1="512.69" x2="187.50" y2="516.69" stroke="#333" stroke-width="1.1"/>
<text x="187.5" y="526.3" font-size="9.02" text-anchor="middle" fill="#1a1a1a" stroke="#1a1a1a" stroke-width="0.15" textLength="13.68" lengthAdjust="spacingAndGlyphs">320</text>
<line x1="219.50" y1="512.69" x2="219.50" y2="514.89" stroke="#333" stroke-width="1.1"/>
<line x1="251.50" y1="512.69" x2="251.50" y2="516.69" stroke="#333" stroke-width="1.1"/>
<text x="251.5" y="526.3" font-size="9.02" text-anchor="middle" fill="#1a1a1a" stroke="#1a1a1a" stroke-width="0.15" textLength="13.68" lengthAdjust="spacingAndGlyphs">340</text>
<line x1="283.50" y1="512.69" x2="283.50" y2="514.89" stroke="#333" stroke-width="1.1"/>
<line x1="315.50" y1="512.69" x2="315.50" y2="516.69" stroke="#333" stroke-width="1.1"/>
<text x="315.5" y="526.3" font-size="9.02" text-anchor="middle" fill="#1a1a1a" stroke="#1a1a1a" stroke-width="0.15" textLength="13.68" lengthAdjust="spacingAndGlyphs">360</text>
<line x1="347.50" y1="512.69" x2="347.50" y2="514.89" stroke="#333" stroke-width="1.1"/>
<line x1="379.50" y1="512.69" x2="379.50" y2="516.69" stroke="#333" stroke-width="1.1"/>
<text x="379.5" y="526.3" font-size="9.02" text-anchor="middle" fill="#1a1a1a" stroke="#1a1a1a" stroke-width="0.15" textLength="13.68" lengthAdjust="spacingAndGlyphs">380</text>
<line x1="121.3" y1="512.69" x2="123.5" y2="512.69" stroke="#333" stroke-width="1.1"/>
<line x1="119.5" y1="494.00" x2="123.5" y2="494.00" stroke="#333" stroke-width="1.1"/>
<text x="117.2" y="496.9" font-size="9.13" text-anchor="end" fill="#1a1a1a" stroke="#1a1a1a" stroke-width="0.15" textLength="13.84" lengthAdjust="spacingAndGlyphs">200</text>
<line x1="121.3" y1="475.31" x2="123.5" y2="475.31" stroke="#333" stroke-width="1.1"/>
<line x1="119.5" y1="456.62" x2="123.5" y2="456.62" stroke="#333" stroke-width="1.1"/>
<text x="117.2" y="459.52" font-size="9.13" text-anchor="end" fill="#1a1a1a" stroke="#1a1a1a" stroke-width="0.15" textLength="13.84" lengthAdjust="spacingAndGlyphs">300</text>
<line x1="121.3" y1="437.93" x2="123.5" y2="437.93" stroke="#333" stroke-width="1.1"/>
<line x1="119.5" y1="419.24" x2="123.5" y2="419.24" stroke="#333" stroke-width="1.1"/>
<text x="117.2" y="422.14" font-size="9.13" text-anchor="end" fill="#1a1a1a" stroke="#1a1a1a" stroke-width="0.15" textLength="13.84" lengthAdjust="spacingAndGlyphs">400</text>
<line x1="121.3" y1="400.55" x2="123.5" y2="400.55" stroke="#333" stroke-width="1.1"/>
<line x1="119.5" y1="381.86" x2="123.5" y2="381.86" stroke="#333" stroke-width="1.1"/>
<text x="117.2" y="384.76" font-size="9.13" text-anchor="end" fill="#1a1a1a" stroke="#1a1a1a" stroke-width="0.15" textLength="13.84" lengthAdjust="spacingAndGlyphs">500</text>
<line x1="121.3" y1="363.17" x2="123.5" y2="363.17" stroke="#333" stroke-width="1.1"/>
<line x1="119.5" y1="344.48" x2="123.5" y2="344.48" stroke="#333" stroke-width="1.1"/>
<text x="117.2" y="347.38" font-size="9.13" text-anchor="end" fill="#1a1a1a" stroke="#1a1a1a" stroke-width="0.15" textLength="13.84" lengthAdjust="spacingAndGlyphs">600</text>
<line x1="121.3" y1="325.79" x2="123.5" y2="325.79" stroke="#333" stroke-width="1.1"/>
<line x1="119.5" y1="307.10" x2="123.5" y2="307.10" stroke="#333" stroke-width="1.1"/>
<text x="117.2" y="310.0" font-size="9.13" text-anchor="end" fill="#1a1a1a" stroke="#1a1a1a" stroke-width="0.15" textLength="13.84" lengthAdjust="spacingAndGlyphs">700</text>
<text x="251.6" y="304.3" font-size="7.9" text-anchor="middle" fill="#222" stroke="#222" stroke-width="0.1" font-weight="bold">(c)</text>
<text x="251.8" y="544.4" font-size="12.6" text-anchor="middle" fill="#111" stroke="#111" stroke-width="0.2">Temperature (K)</text>
<text transform="translate(93.6,410.05) rotate(-90)" x="0" y="0" text-anchor="middle" font-size="12.6" fill="#111" stroke="#111" stroke-width="0.2">Speed of Sound (m/s)</text>
<rect x="323.4" y="308.4" width="51.8" height="55" fill="#fff" stroke="#8a8a8a" stroke-width="1"/>
<line x1="324.2" y1="313.50" x2="341.3" y2="313.50" stroke="#b00000" stroke-width="1.8"/>
<text x="343.2" y="316.0" font-size="7.1" text-anchor="start" fill="#222" stroke="#222" stroke-width="0.2">7.38 MPa</text>
<line x1="324.2" y1="322.45" x2="331" y2="322.45" stroke="#a3a3a3" stroke-width="1.6"/>
<line x1="338" y1="322.45" x2="341" y2="322.45" stroke="#a3a3a3" stroke-width="1.6"/>
<text x="342.8" y="324.95" font-size="7.1" text-anchor="start" fill="#222" stroke="#222" stroke-width="0.2">9 MPa</text>
<rect x="324.3" y="330.40" width="2.2" height="2" fill="#00009c"/>
<rect x="332.6" y="330.40" width="2.2" height="2" fill="#00009c"/>
<text x="343.6" y="333.9" font-size="7.1" text-anchor="start" fill="#222" stroke="#222" stroke-width="0.2">11 MPa</text>
<line x1="324.2" y1="340.35" x2="332" y2="340.35" stroke="#008000" stroke-width="1.8"/>
<line x1="336" y1="340.35" x2="338" y2="340.35" stroke="#008000" stroke-width="1.8"/>
<text x="343.6" y="342.85" font-size="7.1" text-anchor="start" fill="#222" stroke="#222" stroke-width="0.2">14 MPa</text>
<line x1="324.2" y1="349.30" x2="330.5" y2="349.30" stroke="#9a10ff" stroke-width="1.8"/>
<line x1="333.5" y1="349.30" x2="335.5" y2="349.30" stroke="#9a10ff" stroke-width="1.8"/>
<line x1="338.5" y1="349.30" x2="340.5" y2="349.30" stroke="#9a10ff" stroke-width="1.8"/>
<text x="342.8" y="351.8" font-size="7.1" text-anchor="start" fill="#222" stroke="#222" stroke-width="0.2">17 MPa</text>
<line x1="324.2" y1="358.25" x2="341" y2="358.25" stroke="#ff8000" stroke-width="1.6" stroke-dasharray="3.2,2.2"/>
<text x="342.8" y="360.75" font-size="7.1" text-anchor="start" fill="#222" stroke="#222" stroke-width="0.2">25 MPa</text>
</svg>
</body></html>
